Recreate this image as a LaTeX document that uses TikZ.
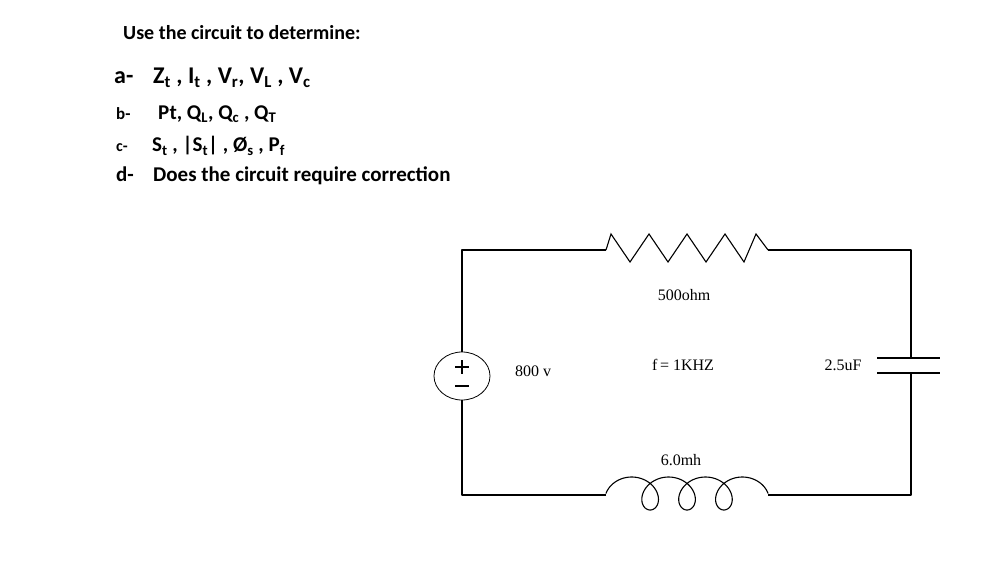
\documentclass[tikz,border=0pt]{standalone}
\usetikzlibrary{shapes.geometric}
\usepackage{fontspec}
\setmainfont{Liberation Serif}
\newfontfamily\calib{Carlito}
\begin{document}
\begin{tikzpicture}[x=1pt,y=-1pt,
  wire/.style={line width=1.4pt,line join=round},
  lbl/.style={font=\fontsize{16}{18}\selectfont,inner sep=0pt},
  q/.style={font=\calib\bfseries\fontsize{21}{24}\selectfont,anchor=west,inner sep=0pt}]
\useasboundingbox (0,0) rectangle (988,572);
% text
\node[q,font=\calib\bfseries\fontsize{20}{24}\selectfont] (t0) at (123,33) {Use the circuit to determine:};
\node[q,font=\calib\bfseries\fontsize{24}{26}\selectfont] (ta) at (114,78) {\makebox[39pt][l]{a-}Z\textsubscript{t} , I\textsubscript{t} , V\textsubscript{r}, V\textsubscript{L} , V\textsubscript{c}};
\node[q] (tb) at (116,114) {\makebox[42pt][l]{\fontsize{17}{20}\selectfont b-}Pt, Q\textsubscript{L}, Q\textsubscript{c} , Q\textsubscript{T}};
\node[q] (tc) at (116,146) {\makebox[36pt][l]{\fontsize{16}{20}\selectfont c-}S\textsubscript{t} , |S\textsubscript{t}| , Ø\textsubscript{s} , P\textsubscript{f}};
\node[q] (td) at (116,176) {\makebox[37pt][l]{d-}Does the circuit require correction};
% nodes
\coordinate (tl) at (462,250); \coordinate (tr) at (911,250);
\coordinate (bl) at (462,495); \coordinate (br) at (911,495);
\coordinate (r1) at (606,250); \coordinate (r2) at (768,250);
\coordinate (l1) at (606,495); \coordinate (l2) at (768,495);
\coordinate (c1) at (911,358); \coordinate (c2) at (911,373);
\node[draw,ellipse,line width=0.8pt,minimum width=56pt,minimum height=48pt,inner sep=0pt] (src) at (462,376) {};
\draw[line width=1.2pt] (455,367)--(469,367) (462,360)--(462,374) (455,386)--(469,386);
% wires
\draw[wire] (src.north) -- (tl) -- (r1);
\draw[wire] (r2) -- (tr) -- (c1);
\draw[wire] (c2) -- (br) -- (l2);
\draw[wire] (l1) -- (bl) -- (src.south);
% resistor
\draw[line width=1.1pt,line join=miter] (r1) -- (611,234) -- (630,262) -- (649,234) -- (668,262) -- (687,234) -- (706,262) -- (725,234) -- (744,262) -- (756,234) -- (r2);
% capacitor
\draw[line width=1.1pt] (877,358) -- (940,358) (877,373) -- (940,373);
% inductor
\draw[line width=1.1pt] plot[domain=-1.5708:20.42,samples=200,smooth] ({631.7+5.87*\x+16.5*sin(\x r)},{493.5-16.5*cos(\x r)});
% labels
\node[lbl] (lr) at (684,295) {500ohm};
\node[lbl] (lv) at (533,371) {800 v};
\node[lbl] (lf) at (683,365) {f\,= 1KHZ};
\node[lbl] (lc) at (843,365) {2.5uF};
\node[lbl] (ll) at (681,460) {6.0mh};
\end{tikzpicture}
\end{document}
